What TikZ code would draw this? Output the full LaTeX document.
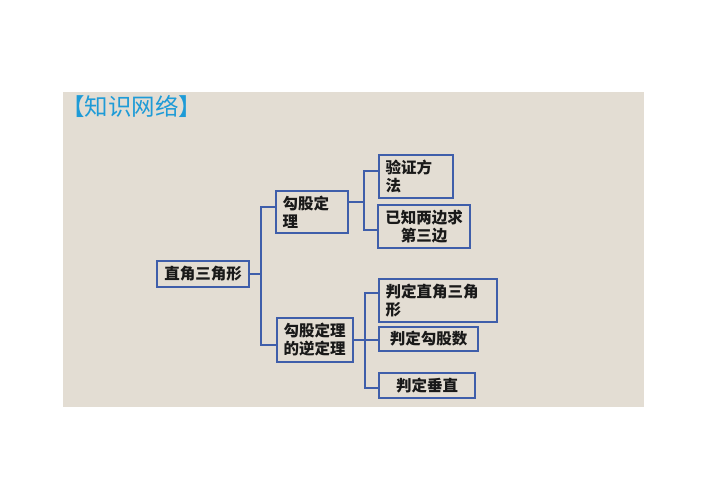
\documentclass[tikz,border=0pt]{standalone}
\usepackage{fontspec}
\newfontfamily\cjk{Noto Sans CJK SC}
\definecolor{panelbg}{RGB}{227,221,211}
\definecolor{boxblue}{RGB}{63,94,170}
\definecolor{titleblue}{RGB}{30,155,215}
\definecolor{ink}{RGB}{25,25,25}
\tikzset{
  box/.style={draw=boxblue, line width=2.2pt, inner xsep=6.5pt, inner ysep=0pt,
    text=ink, font=\cjk\bfseries\fontsize{15.5}{18}\selectfont},
  conn/.style={draw=boxblue, line width=2.2pt},
  titletext/.style={text=titleblue, inner sep=0pt, font=\cjk\fontsize{23.5}{25}\selectfont}
}
\begin{document}
\begin{tikzpicture}[x=1pt,y=-1pt]
\fill[white] (0,0) rectangle (707,500);
\useasboundingbox (0,0) rectangle (707,500);
\fill[panelbg] (63,92) rectangle (644,407);
\node[titletext, anchor=west] (title) at (61,106) {【知识网络】};

\node[box, text width=79pt, minimum height=26pt, align=center] (zj) at (203,274) {直角三角形};
\node[box, text width=59pt, minimum height=42pt, align=left] (gg) at (312,212) {勾股定\\理};
\node[box, text width=63pt, minimum height=44pt, align=left] (nd) at (315,340) {勾股定理\\的逆定理};
\node[box, text width=61pt, minimum height=43pt, align=left] (yz) at (416,176.5) {验证方\\法};
\node[box, text width=79pt, minimum height=43pt, align=center] (yl) at (424,226.5) {已知两边求\\第三边};
\node[box, text width=105pt, minimum height=43pt, align=left] (pd1) at (438,300.5) {判定直角三角\\形};
\node[box, text width=86pt, minimum height=24pt, align=center] (pd2) at (428.5,339) {判定勾股数};
\node[box, text width=83pt, minimum height=25pt, align=center] (pd3) at (427,385.5) {判定垂直};

\coordinate (j1) at (261,274);
\coordinate (j2) at (364,202);
\coordinate (j3) at (365,340);

\draw[conn] (zj.east) -- (j1);
\draw[conn] ([yshift=5pt]gg.west) -| (j1);
\draw[conn] ([yshift=-5pt]nd.west) -| (j1);

\draw[conn] ([yshift=10pt]gg.east) -- (j2);
\draw[conn] ([yshift=5.5pt]yz.west) -| (j2);
\draw[conn] ([yshift=-3.5pt]yl.west) -| (j2);

\draw[conn] (nd.east) -- (j3);
\draw[conn] ([yshift=7.5pt]pd1.west) -| (j3);
\draw[conn] ([yshift=-1pt]pd2.west) -- (j3);
\draw[conn] ([yshift=-2.5pt]pd3.west) -| (j3);
\end{tikzpicture}
\end{document}
